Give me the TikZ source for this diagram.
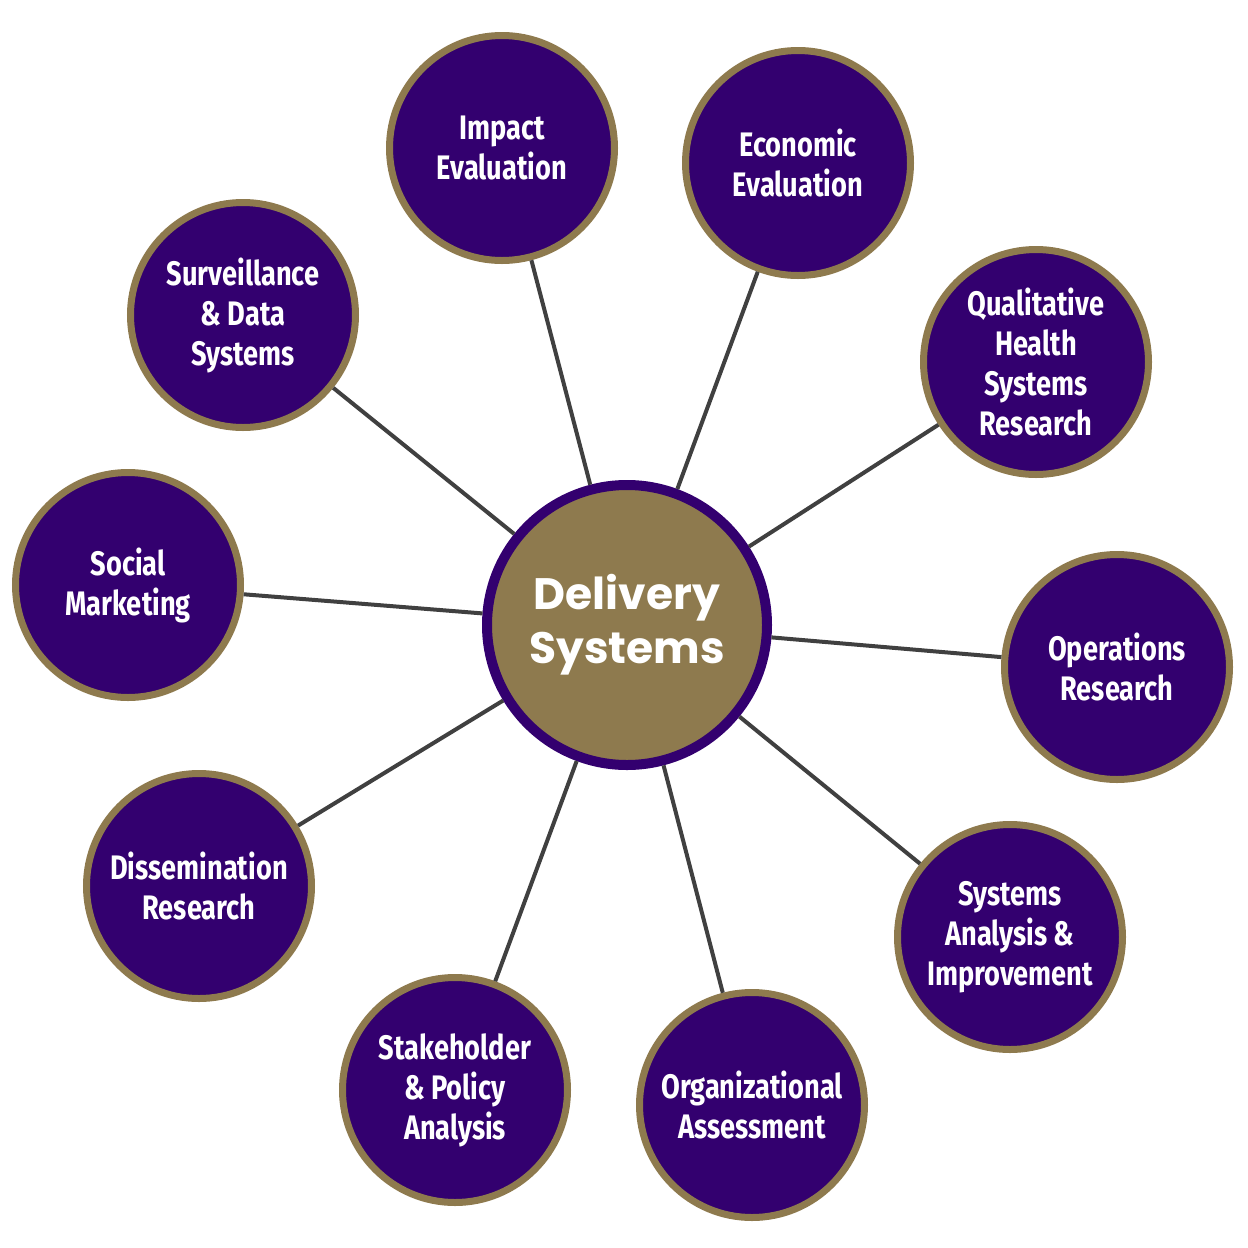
\documentclass[tikz,border=0pt]{standalone}
\usepackage{fontspec}
\setmainfont{Fira Sans}[FakeStretch=0.8]
\newfontfamily\ctrfont{Poppins}
\definecolor{uwpurple}{HTML}{33006F}
\definecolor{uwgold}{HTML}{8E7A4E}
\definecolor{edge}{HTML}{404040}
\begin{document}
\begin{tikzpicture}[x=1bp,y=-1bp,
 sat/.style={circle,fill=uwpurple,draw=uwgold,line width=7bp,minimum size=225bp,inner sep=0pt,text=white,align=center,font=\fontsize{34bp}{40bp}\selectfont\bfseries},
 ctr/.style={circle,fill=uwgold,draw=uwpurple,line width=10bp,minimum size=280bp,inner sep=0pt,text=white,align=center,font=\ctrfont\fontsize{44bp}{54bp}\selectfont\bfseries},
 con/.style={draw=edge,line width=4bp}]
\useasboundingbox (0,0) rectangle (1248,1248);
\node[ctr] (c) at (627,625) {Delivery\\Systems};
\node[sat] (a) at (502,148) {Impact\\Evaluation};
\node[sat] (b) at (798,163) {Economic\\Evaluation};
\node[sat] (q) at (1036,362) {Qualitative\\Health\\Systems\\Research};
\node[sat] (o) at (1117,667) {Operations\\Research};
\node[sat] (s) at (1010,937) {Systems\\Analysis \&\\Improvement};
\node[sat] (g) at (752,1105) {Organizational\\Assessment};
\node[sat] (k) at (455,1090) {Stakeholder\\\& Policy\\Analysis};
\node[sat] (d) at (199,886) {Dissemination\\Research};
\node[sat] (m) at (128,585) {Social\\Marketing};
\node[sat] (v) at (243,315) {Surveillance\\\& Data\\Systems};
\foreach \n in {a,b,q,o,s,g,k,d,m,v} \draw[con] (c) -- (\n);
\end{tikzpicture}
\end{document}
